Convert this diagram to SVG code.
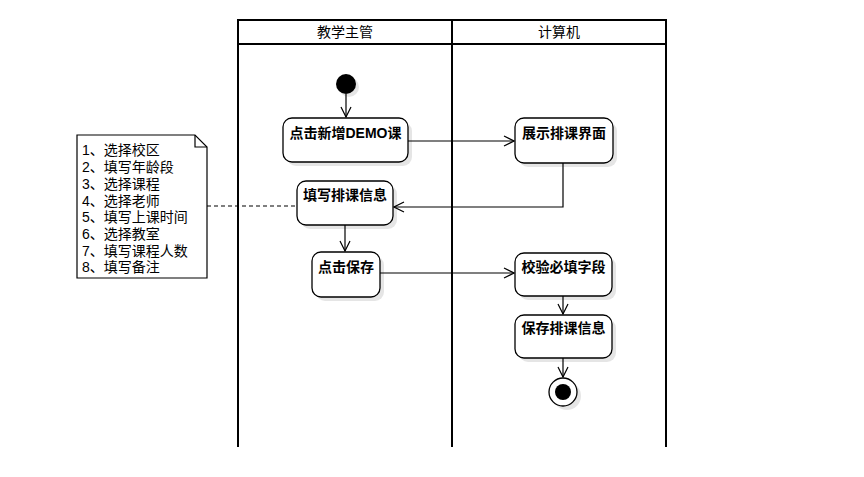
<svg xmlns="http://www.w3.org/2000/svg" width="864" height="477" viewBox="0 0 864 477">
<style>
text{font-family:"Liberation Sans","Noto Sans CJK SC",sans-serif;font-size:14px;fill:#000}
.hd{text-anchor:middle}
.nt{font-weight:bold;text-anchor:middle}
.node{fill:#fff;stroke:#000;stroke-width:1.3}
.sh{fill:#000;opacity:0.1}
.lane{fill:none;stroke:#000;stroke-width:2}
.edge{fill:none;stroke:#000;stroke-width:1.2}
</style>
<defs>
<marker id="arr" viewBox="0 0 12 12" refX="11" refY="6" markerWidth="12" markerHeight="12" markerUnits="userSpaceOnUse" orient="auto">
<path d="M1,1 L11,6 L1,11" fill="none" stroke="#000" stroke-width="1.2"/>
</marker>
</defs>
<rect width="864" height="477" fill="#fff"/>
<g id="lanes">
<path class="lane" d="M238,447 V20 H666 V447 M452,20 V447 M238,44 H666"/>
<text class="hd" x="345" y="37">教学主管</text>
<text class="hd" x="559" y="37">计算机</text>
</g>
<g id="connectors">
<path class="edge" d="M346,94 V117" marker-end="url(#arr)"/>
<path class="edge" d="M408,141 H514" marker-end="url(#arr)"/>
<path class="edge" d="M563,163 V207 H394" marker-end="url(#arr)"/>
<path class="edge" d="M345,225 V251" marker-end="url(#arr)"/>
<path class="edge" d="M380,273 H514" marker-end="url(#arr)"/>
<path class="edge" d="M563,296 V314" marker-end="url(#arr)"/>
<path class="edge" d="M563,358 V377" marker-end="url(#arr)"/>
<path class="edge" d="M207,206 H297" stroke-dasharray="4,3"/>
</g>
<g id="start">
<circle class="sh" cx="349" cy="87" r="10"/>
<circle cx="346" cy="84" r="10" fill="#000"/>
</g>
<g id="n1">
<rect class="sh" x="287" y="122" width="125" height="44" rx="9"/>
<rect class="node" x="283" y="118" width="125" height="44" rx="9"/>
<text class="nt" x="345.5" y="138">点击新增DEMO课</text>
</g>
<g id="n2">
<rect class="sh" x="519" y="122" width="98" height="45" rx="9"/>
<rect class="node" x="515" y="118" width="98" height="45" rx="9"/>
<text class="nt" x="564" y="138">展示排课界面</text>
</g>
<g id="n3">
<rect class="sh" x="301" y="185" width="96" height="44" rx="9"/>
<rect class="node" x="297" y="181" width="96" height="44" rx="9"/>
<text class="nt" x="345" y="200">填写排课信息</text>
</g>
<g id="n4">
<rect class="sh" x="316" y="256" width="68" height="45" rx="9"/>
<rect class="node" x="312" y="252" width="68" height="45" rx="9"/>
<text class="nt" x="346" y="272">点击保存</text>
</g>
<g id="n5">
<rect class="sh" x="519" y="257" width="97" height="43" rx="9"/>
<rect class="node" x="515" y="253" width="97" height="43" rx="9"/>
<text class="nt" x="563.5" y="272">校验必填字段</text>
</g>
<g id="n6">
<rect class="sh" x="519" y="319" width="97" height="43" rx="9"/>
<rect class="node" x="515" y="315" width="97" height="43" rx="9"/>
<text class="nt" x="563.5" y="333">保存排课信息</text>
</g>
<g id="end">
<circle class="sh" cx="567" cy="396" r="14"/>
<circle cx="563" cy="392" r="14" fill="#fff" stroke="#000" stroke-width="1.3"/>
<circle cx="563" cy="392" r="8" fill="#000"/>
</g>
<g id="note">
<path d="M77,135 H195 L207,147 V278 H77 Z" fill="#fff" stroke="#000" stroke-width="1.2"/>
<path d="M195,135 V147 H207" fill="none" stroke="#000" stroke-width="1.2"/>
<text x="82" y="155">1、选择校区</text>
<text x="82" y="172">2、填写年龄段</text>
<text x="82" y="188.5">3、选择课程</text>
<text x="82" y="205.5">4、选择老师</text>
<text x="82" y="222">5、填写上课时间</text>
<text x="82" y="239">6、选择教室</text>
<text x="82" y="255.5">7、填写课程人数</text>
<text x="82" y="272">8、填写备注</text>
</g>
</svg>
